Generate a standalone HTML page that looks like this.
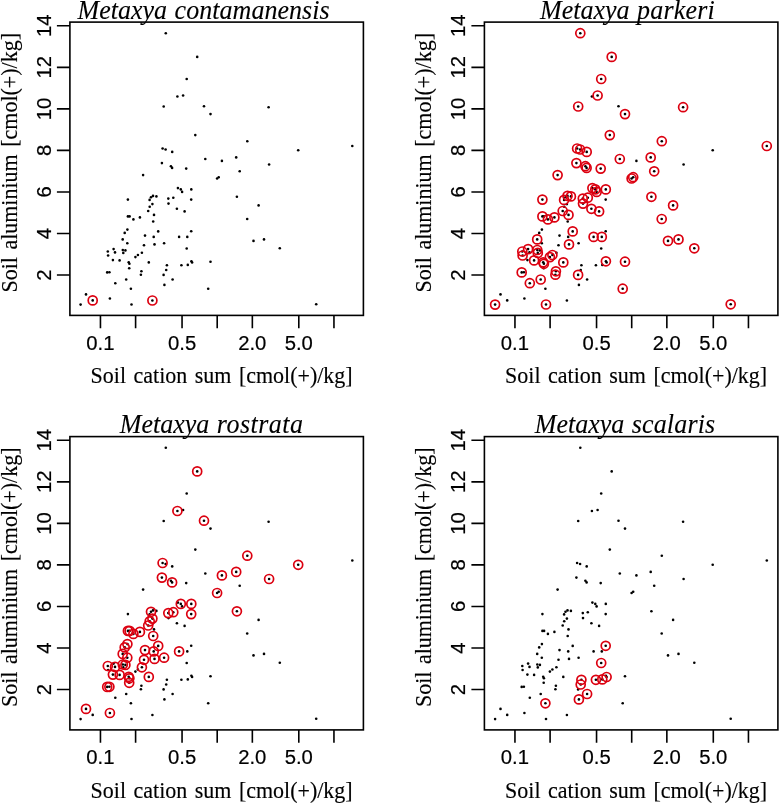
<!DOCTYPE html>
<html><head><meta charset="utf-8"><title>Metaxya soil plots</title>
<style>
html,body{margin:0;padding:0;background:#fff}
svg{display:block}
.ti{word-spacing:1px;font-family:"Liberation Serif",serif;font-style:italic;font-size:26px;fill:#000;stroke:#000;stroke-width:.1px}
.lb{word-spacing:2px;font-family:"Liberation Serif",serif;font-size:22px;fill:#000;stroke:#000;stroke-width:.15px}
.tk{font-family:"Liberation Sans",sans-serif;font-size:20.3px;fill:#000;stroke:#000;stroke-width:.2px}
.d circle{fill:#000}
.c circle{fill:none;stroke:#dc0010;stroke-width:1.7}
</style></head><body>
<svg width="780" height="804" viewBox="0 0 780 804">
<rect width="780" height="804" fill="#fff"/>
<g transform="translate(0,0)">
<rect x="69.9" y="22.1" width="293.5" height="293.3" fill="none" stroke="#000" stroke-width="1.6"/>
<path d="M56.9 275.00H69.9M56.9 233.47H69.9M56.9 191.93H69.9M56.9 150.40H69.9M56.9 108.87H69.9M56.9 67.33H69.9M56.9 25.80H69.9M100.45 315.4V328.2M135.60 315.4V328.2M182.05 315.4V328.2M217.20 315.4V328.2M252.35 315.4V328.2M298.80 315.4V328.2M333.95 315.4V328.2" stroke="#000" stroke-width="1.6" fill="none"/>
<text class="ti" transform="translate(77.6,18.7) scale(1,1.04)">Metaxya <tspan letter-spacing="0.05">contamanensis</tspan></text>
<text class="lb" transform="translate(221.6,383.4) scale(1,1.04)" text-anchor="middle">Soil cation sum [cmol(+)/kg]</text>
<text class="lb" transform="translate(16.5,162.8) rotate(-90) scale(1,1.04)" text-anchor="middle">Soil aluminium [cmol(+)/kg]</text>
<text class="tk" x="100.4" y="349.9" text-anchor="middle">0.1</text>
<text class="tk" x="182.1" y="349.9" text-anchor="middle">0.5</text>
<text class="tk" x="252.3" y="349.9" text-anchor="middle">2.0</text>
<text class="tk" x="298.8" y="349.9" text-anchor="middle">5.0</text>
<text class="tk" transform="translate(50.8,275.0) rotate(-90)" text-anchor="middle">2</text>
<text class="tk" transform="translate(50.8,233.5) rotate(-90)" text-anchor="middle">4</text>
<text class="tk" transform="translate(50.8,191.9) rotate(-90)" text-anchor="middle">6</text>
<text class="tk" transform="translate(50.8,150.4) rotate(-90)" text-anchor="middle">8</text>
<text class="tk" transform="translate(50.8,108.9) rotate(-90)" text-anchor="middle">10</text>
<text class="tk" transform="translate(50.8,67.3) rotate(-90)" text-anchor="middle">12</text>
<text class="tk" transform="translate(50.8,25.8) rotate(-90)" text-anchor="middle">14</text>
<g class="d"><circle cx="80.6" cy="304.6" r="1.3"/><circle cx="86.0" cy="294.4" r="1.3"/><circle cx="92.7" cy="300.4" r="1.3"/><circle cx="109.9" cy="298.5" r="1.3"/><circle cx="131.5" cy="304.5" r="1.3"/><circle cx="152.4" cy="300.5" r="1.3"/><circle cx="130.9" cy="288.8" r="1.3"/><circle cx="115.3" cy="283.2" r="1.3"/><circle cx="126.2" cy="279.5" r="1.3"/><circle cx="107.2" cy="272.4" r="1.3"/><circle cx="109.4" cy="272.3" r="1.3"/><circle cx="129.2" cy="268.3" r="1.3"/><circle cx="141.4" cy="271.3" r="1.3"/><circle cx="140.9" cy="274.7" r="1.3"/><circle cx="163.6" cy="274.9" r="1.3"/><circle cx="164.4" cy="284.9" r="1.3"/><circle cx="166.2" cy="270.0" r="1.3"/><circle cx="166.9" cy="265.3" r="1.3"/><circle cx="148.8" cy="262.4" r="1.3"/><circle cx="128.7" cy="262.3" r="1.3"/><circle cx="129.4" cy="263.8" r="1.3"/><circle cx="112.9" cy="260.1" r="1.3"/><circle cx="119.6" cy="260.4" r="1.3"/><circle cx="108.1" cy="255.5" r="1.3"/><circle cx="107.8" cy="251.5" r="1.3"/><circle cx="113.6" cy="249.1" r="1.3"/><circle cx="115.0" cy="252.4" r="1.3"/><circle cx="122.8" cy="250.0" r="1.3"/><circle cx="125.4" cy="250.4" r="1.3"/><circle cx="123.3" cy="252.9" r="1.3"/><circle cx="135.4" cy="257.1" r="1.3"/><circle cx="137.9" cy="255.0" r="1.3"/><circle cx="141.9" cy="252.8" r="1.3"/><circle cx="144.0" cy="245.3" r="1.3"/><circle cx="127.3" cy="243.2" r="1.3"/><circle cx="122.7" cy="239.4" r="1.3"/><circle cx="124.7" cy="232.9" r="1.3"/><circle cx="127.4" cy="229.6" r="1.3"/><circle cx="145.0" cy="235.6" r="1.3"/><circle cx="153.7" cy="236.9" r="1.3"/><circle cx="154.5" cy="244.4" r="1.3"/><circle cx="164.1" cy="243.2" r="1.3"/><circle cx="158.2" cy="231.4" r="1.3"/><circle cx="153.2" cy="221.5" r="1.3"/><circle cx="127.9" cy="216.4" r="1.3"/><circle cx="129.6" cy="216.4" r="1.3"/><circle cx="133.4" cy="219.4" r="1.3"/><circle cx="139.9" cy="217.4" r="1.3"/><circle cx="154.0" cy="214.9" r="1.3"/><circle cx="148.2" cy="211.0" r="1.3"/><circle cx="149.7" cy="206.8" r="1.3"/><circle cx="152.4" cy="204.1" r="1.3"/><circle cx="149.6" cy="199.9" r="1.3"/><circle cx="151.0" cy="197.3" r="1.3"/><circle cx="153.0" cy="195.9" r="1.3"/><circle cx="156.4" cy="196.4" r="1.3"/><circle cx="127.9" cy="199.6" r="1.3"/><circle cx="168.3" cy="198.6" r="1.3"/><circle cx="168.5" cy="203.6" r="1.3"/><circle cx="143.1" cy="175.1" r="1.3"/><circle cx="161.9" cy="163.1" r="1.3"/><circle cx="162.6" cy="148.5" r="1.3"/><circle cx="165.6" cy="149.5" r="1.3"/><circle cx="165.8" cy="33.2" r="1.3"/><circle cx="197.2" cy="56.9" r="1.3"/><circle cx="186.7" cy="79.0" r="1.3"/><circle cx="177.4" cy="96.5" r="1.3"/><circle cx="183.1" cy="95.5" r="1.3"/><circle cx="163.7" cy="106.5" r="1.3"/><circle cx="204.0" cy="106.2" r="1.3"/><circle cx="210.5" cy="114.1" r="1.3"/><circle cx="172.2" cy="151.9" r="1.3"/><circle cx="170.9" cy="166.2" r="1.3"/><circle cx="172.1" cy="167.9" r="1.3"/><circle cx="186.2" cy="168.6" r="1.3"/><circle cx="195.3" cy="135.1" r="1.3"/><circle cx="205.3" cy="159.0" r="1.3"/><circle cx="221.9" cy="160.9" r="1.3"/><circle cx="236.2" cy="157.4" r="1.3"/><circle cx="247.3" cy="141.2" r="1.3"/><circle cx="239.7" cy="171.3" r="1.3"/><circle cx="217.1" cy="178.5" r="1.3"/><circle cx="218.7" cy="177.2" r="1.3"/><circle cx="177.9" cy="188.1" r="1.3"/><circle cx="180.8" cy="189.4" r="1.3"/><circle cx="182.1" cy="191.9" r="1.3"/><circle cx="191.3" cy="189.4" r="1.3"/><circle cx="173.3" cy="197.7" r="1.3"/><circle cx="191.2" cy="199.6" r="1.3"/><circle cx="176.9" cy="208.8" r="1.3"/><circle cx="184.6" cy="211.4" r="1.3"/><circle cx="236.9" cy="196.8" r="1.3"/><circle cx="258.6" cy="205.4" r="1.3"/><circle cx="247.2" cy="219.0" r="1.3"/><circle cx="253.5" cy="240.9" r="1.3"/><circle cx="191.2" cy="231.3" r="1.3"/><circle cx="179.1" cy="236.9" r="1.3"/><circle cx="187.3" cy="236.9" r="1.3"/><circle cx="186.7" cy="248.5" r="1.3"/><circle cx="210.5" cy="261.7" r="1.3"/><circle cx="191.4" cy="261.3" r="1.3"/><circle cx="192.1" cy="262.5" r="1.3"/><circle cx="187.8" cy="264.9" r="1.3"/><circle cx="181.4" cy="265.3" r="1.3"/><circle cx="172.6" cy="279.5" r="1.3"/><circle cx="208.2" cy="288.7" r="1.3"/><circle cx="268.6" cy="107.2" r="1.3"/><circle cx="298.2" cy="150.3" r="1.3"/><circle cx="352.3" cy="146.0" r="1.3"/><circle cx="269.1" cy="164.5" r="1.3"/><circle cx="264.0" cy="239.4" r="1.3"/><circle cx="279.8" cy="248.3" r="1.3"/><circle cx="316.2" cy="304.3" r="1.3"/></g>
<g class="c"><circle cx="92.7" cy="300.4" r="4.5"/><circle cx="152.4" cy="300.5" r="4.5"/></g>
</g>
<g transform="translate(414.5,0)">
<rect x="69.9" y="22.1" width="293.5" height="293.3" fill="none" stroke="#000" stroke-width="1.6"/>
<path d="M56.9 275.00H69.9M56.9 233.47H69.9M56.9 191.93H69.9M56.9 150.40H69.9M56.9 108.87H69.9M56.9 67.33H69.9M56.9 25.80H69.9M100.45 315.4V328.2M135.60 315.4V328.2M182.05 315.4V328.2M217.20 315.4V328.2M252.35 315.4V328.2M298.80 315.4V328.2M333.95 315.4V328.2" stroke="#000" stroke-width="1.6" fill="none"/>
<text class="ti" transform="translate(125.6,18.7) scale(1,1.04)">Metaxya <tspan letter-spacing="0.2">parkeri</tspan></text>
<text class="lb" transform="translate(221.6,383.4) scale(1,1.04)" text-anchor="middle">Soil cation sum [cmol(+)/kg]</text>
<text class="lb" transform="translate(16.5,162.8) rotate(-90) scale(1,1.04)" text-anchor="middle">Soil aluminium [cmol(+)/kg]</text>
<text class="tk" x="100.4" y="349.9" text-anchor="middle">0.1</text>
<text class="tk" x="182.1" y="349.9" text-anchor="middle">0.5</text>
<text class="tk" x="252.3" y="349.9" text-anchor="middle">2.0</text>
<text class="tk" x="298.8" y="349.9" text-anchor="middle">5.0</text>
<text class="tk" transform="translate(50.8,275.0) rotate(-90)" text-anchor="middle">2</text>
<text class="tk" transform="translate(50.8,233.5) rotate(-90)" text-anchor="middle">4</text>
<text class="tk" transform="translate(50.8,191.9) rotate(-90)" text-anchor="middle">6</text>
<text class="tk" transform="translate(50.8,150.4) rotate(-90)" text-anchor="middle">8</text>
<text class="tk" transform="translate(50.8,108.9) rotate(-90)" text-anchor="middle">10</text>
<text class="tk" transform="translate(50.8,67.3) rotate(-90)" text-anchor="middle">12</text>
<text class="tk" transform="translate(50.8,25.8) rotate(-90)" text-anchor="middle">14</text>
<g class="d"><circle cx="80.6" cy="304.6" r="1.3"/><circle cx="86.0" cy="294.4" r="1.3"/><circle cx="92.7" cy="300.4" r="1.3"/><circle cx="109.9" cy="298.5" r="1.3"/><circle cx="131.5" cy="304.5" r="1.3"/><circle cx="152.4" cy="300.5" r="1.3"/><circle cx="130.9" cy="288.8" r="1.3"/><circle cx="115.3" cy="283.2" r="1.3"/><circle cx="126.2" cy="279.5" r="1.3"/><circle cx="107.2" cy="272.4" r="1.3"/><circle cx="109.4" cy="272.3" r="1.3"/><circle cx="129.2" cy="268.3" r="1.3"/><circle cx="141.4" cy="271.3" r="1.3"/><circle cx="140.9" cy="274.7" r="1.3"/><circle cx="163.6" cy="274.9" r="1.3"/><circle cx="164.4" cy="284.9" r="1.3"/><circle cx="166.2" cy="270.0" r="1.3"/><circle cx="166.9" cy="265.3" r="1.3"/><circle cx="148.8" cy="262.4" r="1.3"/><circle cx="128.7" cy="262.3" r="1.3"/><circle cx="129.4" cy="263.8" r="1.3"/><circle cx="112.9" cy="260.1" r="1.3"/><circle cx="119.6" cy="260.4" r="1.3"/><circle cx="108.1" cy="255.5" r="1.3"/><circle cx="107.8" cy="251.5" r="1.3"/><circle cx="113.6" cy="249.1" r="1.3"/><circle cx="115.0" cy="252.4" r="1.3"/><circle cx="122.8" cy="250.0" r="1.3"/><circle cx="125.4" cy="250.4" r="1.3"/><circle cx="123.3" cy="252.9" r="1.3"/><circle cx="135.4" cy="257.1" r="1.3"/><circle cx="137.9" cy="255.0" r="1.3"/><circle cx="141.9" cy="252.8" r="1.3"/><circle cx="144.0" cy="245.3" r="1.3"/><circle cx="127.3" cy="243.2" r="1.3"/><circle cx="122.7" cy="239.4" r="1.3"/><circle cx="124.7" cy="232.9" r="1.3"/><circle cx="127.4" cy="229.6" r="1.3"/><circle cx="145.0" cy="235.6" r="1.3"/><circle cx="153.7" cy="236.9" r="1.3"/><circle cx="154.5" cy="244.4" r="1.3"/><circle cx="164.1" cy="243.2" r="1.3"/><circle cx="158.2" cy="231.4" r="1.3"/><circle cx="153.2" cy="221.5" r="1.3"/><circle cx="127.9" cy="216.4" r="1.3"/><circle cx="129.6" cy="216.4" r="1.3"/><circle cx="133.4" cy="219.4" r="1.3"/><circle cx="139.9" cy="217.4" r="1.3"/><circle cx="154.0" cy="214.9" r="1.3"/><circle cx="148.2" cy="211.0" r="1.3"/><circle cx="149.7" cy="206.8" r="1.3"/><circle cx="152.4" cy="204.1" r="1.3"/><circle cx="149.6" cy="199.9" r="1.3"/><circle cx="151.0" cy="197.3" r="1.3"/><circle cx="153.0" cy="195.9" r="1.3"/><circle cx="156.4" cy="196.4" r="1.3"/><circle cx="127.9" cy="199.6" r="1.3"/><circle cx="168.3" cy="198.6" r="1.3"/><circle cx="168.5" cy="203.6" r="1.3"/><circle cx="143.1" cy="175.1" r="1.3"/><circle cx="161.9" cy="163.1" r="1.3"/><circle cx="162.6" cy="148.5" r="1.3"/><circle cx="165.6" cy="149.5" r="1.3"/><circle cx="165.8" cy="33.2" r="1.3"/><circle cx="197.2" cy="56.9" r="1.3"/><circle cx="186.7" cy="79.0" r="1.3"/><circle cx="177.4" cy="96.5" r="1.3"/><circle cx="183.1" cy="95.5" r="1.3"/><circle cx="163.7" cy="106.5" r="1.3"/><circle cx="204.0" cy="106.2" r="1.3"/><circle cx="210.5" cy="114.1" r="1.3"/><circle cx="172.2" cy="151.9" r="1.3"/><circle cx="170.9" cy="166.2" r="1.3"/><circle cx="172.1" cy="167.9" r="1.3"/><circle cx="186.2" cy="168.6" r="1.3"/><circle cx="195.3" cy="135.1" r="1.3"/><circle cx="205.3" cy="159.0" r="1.3"/><circle cx="221.9" cy="160.9" r="1.3"/><circle cx="236.2" cy="157.4" r="1.3"/><circle cx="247.3" cy="141.2" r="1.3"/><circle cx="239.7" cy="171.3" r="1.3"/><circle cx="217.1" cy="178.5" r="1.3"/><circle cx="218.7" cy="177.2" r="1.3"/><circle cx="177.9" cy="188.1" r="1.3"/><circle cx="180.8" cy="189.4" r="1.3"/><circle cx="182.1" cy="191.9" r="1.3"/><circle cx="191.3" cy="189.4" r="1.3"/><circle cx="173.3" cy="197.7" r="1.3"/><circle cx="191.2" cy="199.6" r="1.3"/><circle cx="176.9" cy="208.8" r="1.3"/><circle cx="184.6" cy="211.4" r="1.3"/><circle cx="236.9" cy="196.8" r="1.3"/><circle cx="258.6" cy="205.4" r="1.3"/><circle cx="247.2" cy="219.0" r="1.3"/><circle cx="253.5" cy="240.9" r="1.3"/><circle cx="191.2" cy="231.3" r="1.3"/><circle cx="179.1" cy="236.9" r="1.3"/><circle cx="187.3" cy="236.9" r="1.3"/><circle cx="186.7" cy="248.5" r="1.3"/><circle cx="210.5" cy="261.7" r="1.3"/><circle cx="191.4" cy="261.3" r="1.3"/><circle cx="192.1" cy="262.5" r="1.3"/><circle cx="187.8" cy="264.9" r="1.3"/><circle cx="181.4" cy="265.3" r="1.3"/><circle cx="172.6" cy="279.5" r="1.3"/><circle cx="208.2" cy="288.7" r="1.3"/><circle cx="268.6" cy="107.2" r="1.3"/><circle cx="298.2" cy="150.3" r="1.3"/><circle cx="352.3" cy="146.0" r="1.3"/><circle cx="269.1" cy="164.5" r="1.3"/><circle cx="264.0" cy="239.4" r="1.3"/><circle cx="279.8" cy="248.3" r="1.3"/><circle cx="316.2" cy="304.3" r="1.3"/></g>
<g class="c"><circle cx="80.6" cy="304.6" r="4.5"/><circle cx="131.5" cy="304.5" r="4.5"/><circle cx="115.3" cy="283.2" r="4.5"/><circle cx="126.2" cy="279.5" r="4.5"/><circle cx="107.2" cy="272.4" r="4.5"/><circle cx="141.4" cy="271.3" r="4.5"/><circle cx="140.9" cy="274.7" r="4.5"/><circle cx="163.6" cy="274.9" r="4.5"/><circle cx="148.8" cy="262.4" r="4.5"/><circle cx="128.7" cy="262.3" r="4.5"/><circle cx="129.4" cy="263.8" r="4.5"/><circle cx="119.6" cy="260.4" r="4.5"/><circle cx="108.1" cy="255.5" r="4.5"/><circle cx="107.8" cy="251.5" r="4.5"/><circle cx="113.6" cy="249.1" r="4.5"/><circle cx="122.8" cy="250.0" r="4.5"/><circle cx="123.3" cy="252.9" r="4.5"/><circle cx="135.4" cy="257.1" r="4.5"/><circle cx="137.9" cy="255.0" r="4.5"/><circle cx="122.7" cy="239.4" r="4.5"/><circle cx="154.5" cy="244.4" r="4.5"/><circle cx="158.2" cy="231.4" r="4.5"/><circle cx="127.9" cy="216.4" r="4.5"/><circle cx="133.4" cy="219.4" r="4.5"/><circle cx="139.9" cy="217.4" r="4.5"/><circle cx="154.0" cy="214.9" r="4.5"/><circle cx="148.2" cy="211.0" r="4.5"/><circle cx="149.6" cy="199.9" r="4.5"/><circle cx="153.0" cy="195.9" r="4.5"/><circle cx="156.4" cy="196.4" r="4.5"/><circle cx="127.9" cy="199.6" r="4.5"/><circle cx="168.3" cy="198.6" r="4.5"/><circle cx="168.5" cy="203.6" r="4.5"/><circle cx="143.1" cy="175.1" r="4.5"/><circle cx="161.9" cy="163.1" r="4.5"/><circle cx="162.6" cy="148.5" r="4.5"/><circle cx="165.6" cy="149.5" r="4.5"/><circle cx="165.8" cy="33.2" r="4.5"/><circle cx="197.2" cy="56.9" r="4.5"/><circle cx="186.7" cy="79.0" r="4.5"/><circle cx="183.1" cy="95.5" r="4.5"/><circle cx="163.7" cy="106.5" r="4.5"/><circle cx="210.5" cy="114.1" r="4.5"/><circle cx="172.2" cy="151.9" r="4.5"/><circle cx="170.9" cy="166.2" r="4.5"/><circle cx="172.1" cy="167.9" r="4.5"/><circle cx="186.2" cy="168.6" r="4.5"/><circle cx="195.3" cy="135.1" r="4.5"/><circle cx="205.3" cy="159.0" r="4.5"/><circle cx="236.2" cy="157.4" r="4.5"/><circle cx="247.3" cy="141.2" r="4.5"/><circle cx="239.7" cy="171.3" r="4.5"/><circle cx="217.1" cy="178.5" r="4.5"/><circle cx="218.7" cy="177.2" r="4.5"/><circle cx="177.9" cy="188.1" r="4.5"/><circle cx="180.8" cy="189.4" r="4.5"/><circle cx="182.1" cy="191.9" r="4.5"/><circle cx="191.3" cy="189.4" r="4.5"/><circle cx="173.3" cy="197.7" r="4.5"/><circle cx="176.9" cy="208.8" r="4.5"/><circle cx="184.6" cy="211.4" r="4.5"/><circle cx="236.9" cy="196.8" r="4.5"/><circle cx="258.6" cy="205.4" r="4.5"/><circle cx="247.2" cy="219.0" r="4.5"/><circle cx="253.5" cy="240.9" r="4.5"/><circle cx="179.1" cy="236.9" r="4.5"/><circle cx="187.3" cy="236.9" r="4.5"/><circle cx="191.4" cy="261.3" r="4.5"/><circle cx="210.5" cy="261.7" r="4.5"/><circle cx="208.2" cy="288.7" r="4.5"/><circle cx="268.6" cy="107.2" r="4.5"/><circle cx="352.3" cy="146.0" r="4.5"/><circle cx="264.0" cy="239.4" r="4.5"/><circle cx="279.8" cy="248.3" r="4.5"/><circle cx="316.2" cy="304.3" r="4.5"/></g>
</g>
<g transform="translate(0,414.5)">
<rect x="69.9" y="22.1" width="293.5" height="293.3" fill="none" stroke="#000" stroke-width="1.6"/>
<path d="M56.9 275.00H69.9M56.9 233.47H69.9M56.9 191.93H69.9M56.9 150.40H69.9M56.9 108.87H69.9M56.9 67.33H69.9M56.9 25.80H69.9M100.45 315.4V328.2M135.60 315.4V328.2M182.05 315.4V328.2M217.20 315.4V328.2M252.35 315.4V328.2M298.80 315.4V328.2M333.95 315.4V328.2" stroke="#000" stroke-width="1.6" fill="none"/>
<text class="ti" transform="translate(119.8,18.7) scale(1,1.04)">Metaxya <tspan letter-spacing="0.5">rostrata</tspan></text>
<text class="lb" transform="translate(221.6,383.4) scale(1,1.04)" text-anchor="middle">Soil cation sum [cmol(+)/kg]</text>
<text class="lb" transform="translate(16.5,162.8) rotate(-90) scale(1,1.04)" text-anchor="middle">Soil aluminium [cmol(+)/kg]</text>
<text class="tk" x="100.4" y="349.9" text-anchor="middle">0.1</text>
<text class="tk" x="182.1" y="349.9" text-anchor="middle">0.5</text>
<text class="tk" x="252.3" y="349.9" text-anchor="middle">2.0</text>
<text class="tk" x="298.8" y="349.9" text-anchor="middle">5.0</text>
<text class="tk" transform="translate(50.8,275.0) rotate(-90)" text-anchor="middle">2</text>
<text class="tk" transform="translate(50.8,233.5) rotate(-90)" text-anchor="middle">4</text>
<text class="tk" transform="translate(50.8,191.9) rotate(-90)" text-anchor="middle">6</text>
<text class="tk" transform="translate(50.8,150.4) rotate(-90)" text-anchor="middle">8</text>
<text class="tk" transform="translate(50.8,108.9) rotate(-90)" text-anchor="middle">10</text>
<text class="tk" transform="translate(50.8,67.3) rotate(-90)" text-anchor="middle">12</text>
<text class="tk" transform="translate(50.8,25.8) rotate(-90)" text-anchor="middle">14</text>
<g class="d"><circle cx="80.6" cy="304.6" r="1.3"/><circle cx="86.0" cy="294.4" r="1.3"/><circle cx="92.7" cy="300.4" r="1.3"/><circle cx="109.9" cy="298.5" r="1.3"/><circle cx="131.5" cy="304.5" r="1.3"/><circle cx="152.4" cy="300.5" r="1.3"/><circle cx="130.9" cy="288.8" r="1.3"/><circle cx="115.3" cy="283.2" r="1.3"/><circle cx="126.2" cy="279.5" r="1.3"/><circle cx="107.2" cy="272.4" r="1.3"/><circle cx="109.4" cy="272.3" r="1.3"/><circle cx="129.2" cy="268.3" r="1.3"/><circle cx="141.4" cy="271.3" r="1.3"/><circle cx="140.9" cy="274.7" r="1.3"/><circle cx="163.6" cy="274.9" r="1.3"/><circle cx="164.4" cy="284.9" r="1.3"/><circle cx="166.2" cy="270.0" r="1.3"/><circle cx="166.9" cy="265.3" r="1.3"/><circle cx="148.8" cy="262.4" r="1.3"/><circle cx="128.7" cy="262.3" r="1.3"/><circle cx="129.4" cy="263.8" r="1.3"/><circle cx="112.9" cy="260.1" r="1.3"/><circle cx="119.6" cy="260.4" r="1.3"/><circle cx="108.1" cy="255.5" r="1.3"/><circle cx="107.8" cy="251.5" r="1.3"/><circle cx="113.6" cy="249.1" r="1.3"/><circle cx="115.0" cy="252.4" r="1.3"/><circle cx="122.8" cy="250.0" r="1.3"/><circle cx="125.4" cy="250.4" r="1.3"/><circle cx="123.3" cy="252.9" r="1.3"/><circle cx="135.4" cy="257.1" r="1.3"/><circle cx="137.9" cy="255.0" r="1.3"/><circle cx="141.9" cy="252.8" r="1.3"/><circle cx="144.0" cy="245.3" r="1.3"/><circle cx="127.3" cy="243.2" r="1.3"/><circle cx="122.7" cy="239.4" r="1.3"/><circle cx="124.7" cy="232.9" r="1.3"/><circle cx="127.4" cy="229.6" r="1.3"/><circle cx="145.0" cy="235.6" r="1.3"/><circle cx="153.7" cy="236.9" r="1.3"/><circle cx="154.5" cy="244.4" r="1.3"/><circle cx="164.1" cy="243.2" r="1.3"/><circle cx="158.2" cy="231.4" r="1.3"/><circle cx="153.2" cy="221.5" r="1.3"/><circle cx="127.9" cy="216.4" r="1.3"/><circle cx="129.6" cy="216.4" r="1.3"/><circle cx="133.4" cy="219.4" r="1.3"/><circle cx="139.9" cy="217.4" r="1.3"/><circle cx="154.0" cy="214.9" r="1.3"/><circle cx="148.2" cy="211.0" r="1.3"/><circle cx="149.7" cy="206.8" r="1.3"/><circle cx="152.4" cy="204.1" r="1.3"/><circle cx="149.6" cy="199.9" r="1.3"/><circle cx="151.0" cy="197.3" r="1.3"/><circle cx="153.0" cy="195.9" r="1.3"/><circle cx="156.4" cy="196.4" r="1.3"/><circle cx="127.9" cy="199.6" r="1.3"/><circle cx="168.3" cy="198.6" r="1.3"/><circle cx="168.5" cy="203.6" r="1.3"/><circle cx="143.1" cy="175.1" r="1.3"/><circle cx="161.9" cy="163.1" r="1.3"/><circle cx="162.6" cy="148.5" r="1.3"/><circle cx="165.6" cy="149.5" r="1.3"/><circle cx="165.8" cy="33.2" r="1.3"/><circle cx="197.2" cy="56.9" r="1.3"/><circle cx="186.7" cy="79.0" r="1.3"/><circle cx="177.4" cy="96.5" r="1.3"/><circle cx="183.1" cy="95.5" r="1.3"/><circle cx="163.7" cy="106.5" r="1.3"/><circle cx="204.0" cy="106.2" r="1.3"/><circle cx="210.5" cy="114.1" r="1.3"/><circle cx="172.2" cy="151.9" r="1.3"/><circle cx="170.9" cy="166.2" r="1.3"/><circle cx="172.1" cy="167.9" r="1.3"/><circle cx="186.2" cy="168.6" r="1.3"/><circle cx="195.3" cy="135.1" r="1.3"/><circle cx="205.3" cy="159.0" r="1.3"/><circle cx="221.9" cy="160.9" r="1.3"/><circle cx="236.2" cy="157.4" r="1.3"/><circle cx="247.3" cy="141.2" r="1.3"/><circle cx="239.7" cy="171.3" r="1.3"/><circle cx="217.1" cy="178.5" r="1.3"/><circle cx="218.7" cy="177.2" r="1.3"/><circle cx="177.9" cy="188.1" r="1.3"/><circle cx="180.8" cy="189.4" r="1.3"/><circle cx="182.1" cy="191.9" r="1.3"/><circle cx="191.3" cy="189.4" r="1.3"/><circle cx="173.3" cy="197.7" r="1.3"/><circle cx="191.2" cy="199.6" r="1.3"/><circle cx="176.9" cy="208.8" r="1.3"/><circle cx="184.6" cy="211.4" r="1.3"/><circle cx="236.9" cy="196.8" r="1.3"/><circle cx="258.6" cy="205.4" r="1.3"/><circle cx="247.2" cy="219.0" r="1.3"/><circle cx="253.5" cy="240.9" r="1.3"/><circle cx="191.2" cy="231.3" r="1.3"/><circle cx="179.1" cy="236.9" r="1.3"/><circle cx="187.3" cy="236.9" r="1.3"/><circle cx="186.7" cy="248.5" r="1.3"/><circle cx="210.5" cy="261.7" r="1.3"/><circle cx="191.4" cy="261.3" r="1.3"/><circle cx="192.1" cy="262.5" r="1.3"/><circle cx="187.8" cy="264.9" r="1.3"/><circle cx="181.4" cy="265.3" r="1.3"/><circle cx="172.6" cy="279.5" r="1.3"/><circle cx="208.2" cy="288.7" r="1.3"/><circle cx="268.6" cy="107.2" r="1.3"/><circle cx="298.2" cy="150.3" r="1.3"/><circle cx="352.3" cy="146.0" r="1.3"/><circle cx="269.1" cy="164.5" r="1.3"/><circle cx="264.0" cy="239.4" r="1.3"/><circle cx="279.8" cy="248.3" r="1.3"/><circle cx="316.2" cy="304.3" r="1.3"/></g>
<g class="c"><circle cx="86.0" cy="294.4" r="4.5"/><circle cx="109.9" cy="298.5" r="4.5"/><circle cx="107.2" cy="272.4" r="4.5"/><circle cx="109.4" cy="272.3" r="4.5"/><circle cx="129.2" cy="268.3" r="4.5"/><circle cx="148.8" cy="262.4" r="4.5"/><circle cx="128.7" cy="262.3" r="4.5"/><circle cx="129.4" cy="263.8" r="4.5"/><circle cx="112.9" cy="260.1" r="4.5"/><circle cx="119.6" cy="260.4" r="4.5"/><circle cx="107.8" cy="251.5" r="4.5"/><circle cx="115.0" cy="252.4" r="4.5"/><circle cx="122.8" cy="250.0" r="4.5"/><circle cx="125.4" cy="250.4" r="4.5"/><circle cx="141.9" cy="252.8" r="4.5"/><circle cx="144.0" cy="245.3" r="4.5"/><circle cx="127.3" cy="243.2" r="4.5"/><circle cx="122.7" cy="239.4" r="4.5"/><circle cx="124.7" cy="232.9" r="4.5"/><circle cx="127.4" cy="229.6" r="4.5"/><circle cx="145.0" cy="235.6" r="4.5"/><circle cx="153.7" cy="236.9" r="4.5"/><circle cx="154.5" cy="244.4" r="4.5"/><circle cx="164.1" cy="243.2" r="4.5"/><circle cx="158.2" cy="231.4" r="4.5"/><circle cx="153.2" cy="221.5" r="4.5"/><circle cx="127.9" cy="216.4" r="4.5"/><circle cx="129.6" cy="216.4" r="4.5"/><circle cx="133.4" cy="219.4" r="4.5"/><circle cx="139.9" cy="217.4" r="4.5"/><circle cx="148.2" cy="211.0" r="4.5"/><circle cx="149.7" cy="206.8" r="4.5"/><circle cx="152.4" cy="204.1" r="4.5"/><circle cx="151.0" cy="197.3" r="4.5"/><circle cx="168.3" cy="198.6" r="4.5"/><circle cx="161.9" cy="163.1" r="4.5"/><circle cx="162.6" cy="148.5" r="4.5"/><circle cx="197.2" cy="56.9" r="4.5"/><circle cx="177.4" cy="96.5" r="4.5"/><circle cx="204.0" cy="106.2" r="4.5"/><circle cx="172.1" cy="167.9" r="4.5"/><circle cx="221.9" cy="160.9" r="4.5"/><circle cx="236.2" cy="157.4" r="4.5"/><circle cx="247.3" cy="141.2" r="4.5"/><circle cx="217.1" cy="178.5" r="4.5"/><circle cx="180.8" cy="189.4" r="4.5"/><circle cx="191.3" cy="189.4" r="4.5"/><circle cx="173.3" cy="197.7" r="4.5"/><circle cx="191.2" cy="199.6" r="4.5"/><circle cx="236.9" cy="196.8" r="4.5"/><circle cx="179.1" cy="236.9" r="4.5"/><circle cx="298.2" cy="150.3" r="4.5"/><circle cx="269.1" cy="164.5" r="4.5"/></g>
</g>
<g transform="translate(414.5,414.5)">
<rect x="69.9" y="22.1" width="293.5" height="293.3" fill="none" stroke="#000" stroke-width="1.6"/>
<path d="M56.9 275.00H69.9M56.9 233.47H69.9M56.9 191.93H69.9M56.9 150.40H69.9M56.9 108.87H69.9M56.9 67.33H69.9M56.9 25.80H69.9M100.45 315.4V328.2M135.60 315.4V328.2M182.05 315.4V328.2M217.20 315.4V328.2M252.35 315.4V328.2M298.80 315.4V328.2M333.95 315.4V328.2" stroke="#000" stroke-width="1.6" fill="none"/>
<text class="ti" transform="translate(120.3,18.7) scale(1,1.04)">Metaxya <tspan letter-spacing="0.15">scalaris</tspan></text>
<text class="lb" transform="translate(221.6,383.4) scale(1,1.04)" text-anchor="middle">Soil cation sum [cmol(+)/kg]</text>
<text class="lb" transform="translate(16.5,162.8) rotate(-90) scale(1,1.04)" text-anchor="middle">Soil aluminium [cmol(+)/kg]</text>
<text class="tk" x="100.4" y="349.9" text-anchor="middle">0.1</text>
<text class="tk" x="182.1" y="349.9" text-anchor="middle">0.5</text>
<text class="tk" x="252.3" y="349.9" text-anchor="middle">2.0</text>
<text class="tk" x="298.8" y="349.9" text-anchor="middle">5.0</text>
<text class="tk" transform="translate(50.8,275.0) rotate(-90)" text-anchor="middle">2</text>
<text class="tk" transform="translate(50.8,233.5) rotate(-90)" text-anchor="middle">4</text>
<text class="tk" transform="translate(50.8,191.9) rotate(-90)" text-anchor="middle">6</text>
<text class="tk" transform="translate(50.8,150.4) rotate(-90)" text-anchor="middle">8</text>
<text class="tk" transform="translate(50.8,108.9) rotate(-90)" text-anchor="middle">10</text>
<text class="tk" transform="translate(50.8,67.3) rotate(-90)" text-anchor="middle">12</text>
<text class="tk" transform="translate(50.8,25.8) rotate(-90)" text-anchor="middle">14</text>
<g class="d"><circle cx="80.6" cy="304.6" r="1.3"/><circle cx="86.0" cy="294.4" r="1.3"/><circle cx="92.7" cy="300.4" r="1.3"/><circle cx="109.9" cy="298.5" r="1.3"/><circle cx="131.5" cy="304.5" r="1.3"/><circle cx="152.4" cy="300.5" r="1.3"/><circle cx="130.9" cy="288.8" r="1.3"/><circle cx="115.3" cy="283.2" r="1.3"/><circle cx="126.2" cy="279.5" r="1.3"/><circle cx="107.2" cy="272.4" r="1.3"/><circle cx="109.4" cy="272.3" r="1.3"/><circle cx="129.2" cy="268.3" r="1.3"/><circle cx="141.4" cy="271.3" r="1.3"/><circle cx="140.9" cy="274.7" r="1.3"/><circle cx="163.6" cy="274.9" r="1.3"/><circle cx="164.4" cy="284.9" r="1.3"/><circle cx="166.2" cy="270.0" r="1.3"/><circle cx="166.9" cy="265.3" r="1.3"/><circle cx="148.8" cy="262.4" r="1.3"/><circle cx="128.7" cy="262.3" r="1.3"/><circle cx="129.4" cy="263.8" r="1.3"/><circle cx="112.9" cy="260.1" r="1.3"/><circle cx="119.6" cy="260.4" r="1.3"/><circle cx="108.1" cy="255.5" r="1.3"/><circle cx="107.8" cy="251.5" r="1.3"/><circle cx="113.6" cy="249.1" r="1.3"/><circle cx="115.0" cy="252.4" r="1.3"/><circle cx="122.8" cy="250.0" r="1.3"/><circle cx="125.4" cy="250.4" r="1.3"/><circle cx="123.3" cy="252.9" r="1.3"/><circle cx="135.4" cy="257.1" r="1.3"/><circle cx="137.9" cy="255.0" r="1.3"/><circle cx="141.9" cy="252.8" r="1.3"/><circle cx="144.0" cy="245.3" r="1.3"/><circle cx="127.3" cy="243.2" r="1.3"/><circle cx="122.7" cy="239.4" r="1.3"/><circle cx="124.7" cy="232.9" r="1.3"/><circle cx="127.4" cy="229.6" r="1.3"/><circle cx="145.0" cy="235.6" r="1.3"/><circle cx="153.7" cy="236.9" r="1.3"/><circle cx="154.5" cy="244.4" r="1.3"/><circle cx="164.1" cy="243.2" r="1.3"/><circle cx="158.2" cy="231.4" r="1.3"/><circle cx="153.2" cy="221.5" r="1.3"/><circle cx="127.9" cy="216.4" r="1.3"/><circle cx="129.6" cy="216.4" r="1.3"/><circle cx="133.4" cy="219.4" r="1.3"/><circle cx="139.9" cy="217.4" r="1.3"/><circle cx="154.0" cy="214.9" r="1.3"/><circle cx="148.2" cy="211.0" r="1.3"/><circle cx="149.7" cy="206.8" r="1.3"/><circle cx="152.4" cy="204.1" r="1.3"/><circle cx="149.6" cy="199.9" r="1.3"/><circle cx="151.0" cy="197.3" r="1.3"/><circle cx="153.0" cy="195.9" r="1.3"/><circle cx="156.4" cy="196.4" r="1.3"/><circle cx="127.9" cy="199.6" r="1.3"/><circle cx="168.3" cy="198.6" r="1.3"/><circle cx="168.5" cy="203.6" r="1.3"/><circle cx="143.1" cy="175.1" r="1.3"/><circle cx="161.9" cy="163.1" r="1.3"/><circle cx="162.6" cy="148.5" r="1.3"/><circle cx="165.6" cy="149.5" r="1.3"/><circle cx="165.8" cy="33.2" r="1.3"/><circle cx="197.2" cy="56.9" r="1.3"/><circle cx="186.7" cy="79.0" r="1.3"/><circle cx="177.4" cy="96.5" r="1.3"/><circle cx="183.1" cy="95.5" r="1.3"/><circle cx="163.7" cy="106.5" r="1.3"/><circle cx="204.0" cy="106.2" r="1.3"/><circle cx="210.5" cy="114.1" r="1.3"/><circle cx="172.2" cy="151.9" r="1.3"/><circle cx="170.9" cy="166.2" r="1.3"/><circle cx="172.1" cy="167.9" r="1.3"/><circle cx="186.2" cy="168.6" r="1.3"/><circle cx="195.3" cy="135.1" r="1.3"/><circle cx="205.3" cy="159.0" r="1.3"/><circle cx="221.9" cy="160.9" r="1.3"/><circle cx="236.2" cy="157.4" r="1.3"/><circle cx="247.3" cy="141.2" r="1.3"/><circle cx="239.7" cy="171.3" r="1.3"/><circle cx="217.1" cy="178.5" r="1.3"/><circle cx="218.7" cy="177.2" r="1.3"/><circle cx="177.9" cy="188.1" r="1.3"/><circle cx="180.8" cy="189.4" r="1.3"/><circle cx="182.1" cy="191.9" r="1.3"/><circle cx="191.3" cy="189.4" r="1.3"/><circle cx="173.3" cy="197.7" r="1.3"/><circle cx="191.2" cy="199.6" r="1.3"/><circle cx="176.9" cy="208.8" r="1.3"/><circle cx="184.6" cy="211.4" r="1.3"/><circle cx="236.9" cy="196.8" r="1.3"/><circle cx="258.6" cy="205.4" r="1.3"/><circle cx="247.2" cy="219.0" r="1.3"/><circle cx="253.5" cy="240.9" r="1.3"/><circle cx="191.2" cy="231.3" r="1.3"/><circle cx="179.1" cy="236.9" r="1.3"/><circle cx="187.3" cy="236.9" r="1.3"/><circle cx="186.7" cy="248.5" r="1.3"/><circle cx="210.5" cy="261.7" r="1.3"/><circle cx="191.4" cy="261.3" r="1.3"/><circle cx="192.1" cy="262.5" r="1.3"/><circle cx="187.8" cy="264.9" r="1.3"/><circle cx="181.4" cy="265.3" r="1.3"/><circle cx="172.6" cy="279.5" r="1.3"/><circle cx="208.2" cy="288.7" r="1.3"/><circle cx="268.6" cy="107.2" r="1.3"/><circle cx="298.2" cy="150.3" r="1.3"/><circle cx="352.3" cy="146.0" r="1.3"/><circle cx="269.1" cy="164.5" r="1.3"/><circle cx="264.0" cy="239.4" r="1.3"/><circle cx="279.8" cy="248.3" r="1.3"/><circle cx="316.2" cy="304.3" r="1.3"/></g>
<g class="c"><circle cx="130.9" cy="288.8" r="4.5"/><circle cx="164.4" cy="284.9" r="4.5"/><circle cx="172.6" cy="279.5" r="4.5"/><circle cx="166.2" cy="270.0" r="4.5"/><circle cx="166.9" cy="265.3" r="4.5"/><circle cx="181.4" cy="265.3" r="4.5"/><circle cx="187.8" cy="264.9" r="4.5"/><circle cx="192.1" cy="262.5" r="4.5"/><circle cx="186.7" cy="248.5" r="4.5"/><circle cx="191.2" cy="231.3" r="4.5"/></g>
</g>
</svg>
</body></html>
